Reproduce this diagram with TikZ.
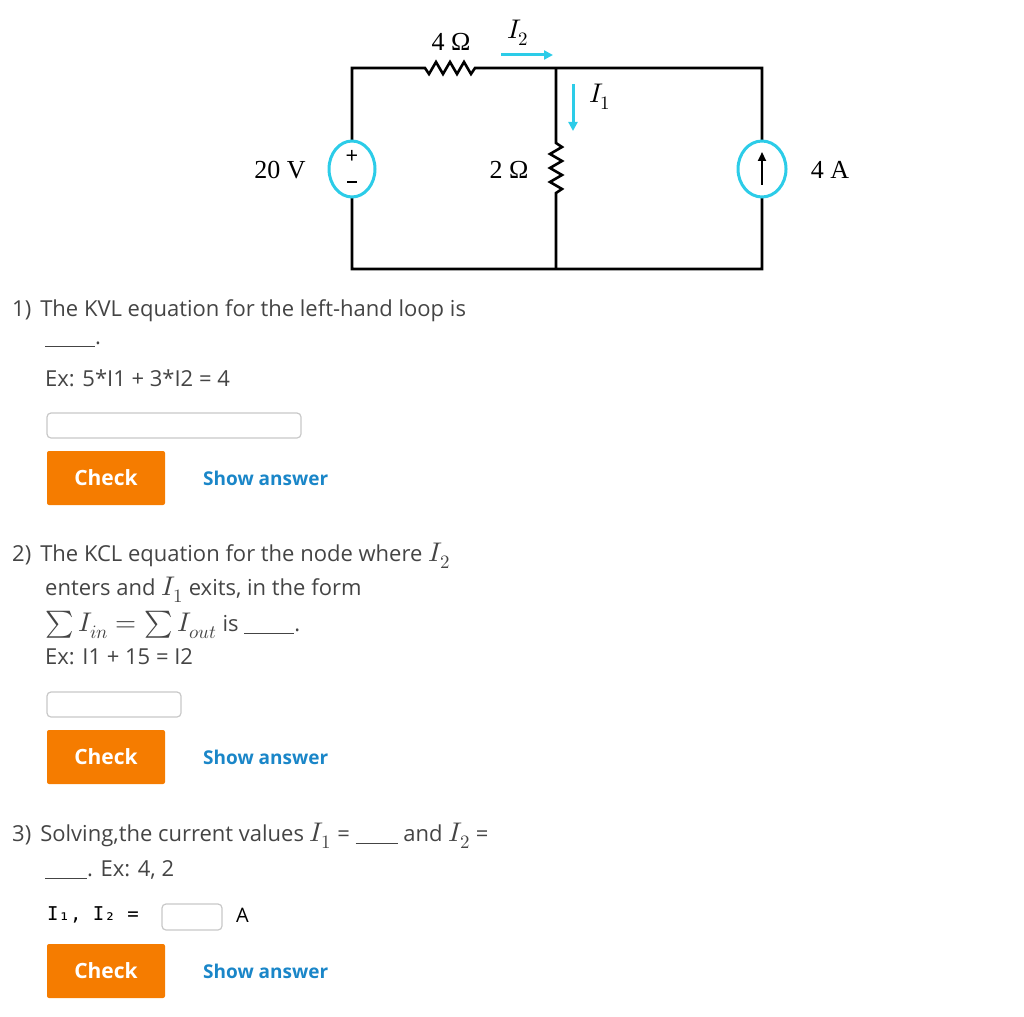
\documentclass[tikz,border=0pt]{standalone}
\usepackage{fontspec}
\usepackage{unicode-math}
\setmathfont{Latin Modern Math}
\setmainfont{Open Sans}
\newfontfamily\serifc{Liberation Serif}
\newfontfamily\monof{DejaVu Sans Mono}
\usetikzlibrary{arrows.meta,shapes.geometric}
\definecolor{txt}{HTML}{444444}
\definecolor{cy}{HTML}{2CCCE8}
\definecolor{org}{HTML}{F57C00}
\definecolor{lnk}{HTML}{1A86C8}
\definecolor{bx}{HTML}{C8C8C8}
\tikzset{
 wire/.style={line width=2.6pt},
 lab/.style={font=\serifc\fontsize{26}{28}\selectfont, text=black},
 q/.style={anchor=west, inner sep=0, font=\fontsize{22}{26}\selectfont, text=txt},
 inbox/.style={draw=bx, line width=1.2pt, rounded corners=4pt},
 btn/.style={fill=org, rounded corners=2pt, text=white, font=\bfseries\fontsize{21}{24}\selectfont, minimum width=118pt, minimum height=54pt, inner sep=0},
 show/.style={anchor=west, inner sep=0, text=lnk, font=\bfseries\fontsize{19}{24}\selectfont},
 car/.style={cy, line width=3pt, -{Triangle[length=9pt,width=9pt]}},
}
\newcommand{\blank}[1]{\rule[-2pt]{#1}{0.8pt}}
\newcommand{\mm}[1]{{\fontsize{27}{26}\selectfont$#1$}}
\begin{document}
\begin{tikzpicture}[x=1pt,y=-1pt]
\useasboundingbox (0,0) rectangle (1024,1016);
% circuit
\coordinate (tl) at (352,68); \coordinate (tr) at (762,68);
\coordinate (bl) at (352,269); \coordinate (br) at (762,269);
\coordinate (tm) at (556,68); \coordinate (bm) at (556,269);
\draw[wire] (tl) -- (425,68) -- ++(4,6) -- ++(7,-12) -- ++(7,12) -- ++(7,-12) -- ++(7,12) -- ++(7,-12) -- ++(7,12) -- ++(4,-6) -- (tr) -- (br) -- (bl) -- cycle;
\draw[wire] (tm) -- (556,143) -- ++(6,4) -- ++(-12,7) -- ++(12,7) -- ++(-12,7) -- ++(12,7) -- ++(-12,7) -- ++(12,7) -- ++(-6,4) -- (bm);
\node[draw=cy, line width=3pt, fill=white, ellipse, minimum width=46pt, minimum height=56pt, inner sep=0] (vs) at (352,169) {};
\node[inner sep=0, font=\fontsize{22}{22}\selectfont] at (352,157) {+};
\draw[line width=1.6pt] (347,182) -- (357,182);
\node[draw=cy, line width=3pt, fill=white, ellipse, minimum width=48pt, minimum height=56pt, inner sep=0] (cs) at (762,169) {};
\draw[line width=2pt, -{Triangle[length=9pt,width=8pt]}] (762,185) -- (762,152);
\node[lab] at (280,170) {20 V};
\node[lab] at (830,170) {4 A};
\node[lab] at (451,42) {4 Ω};
\node[lab] at (509,170) {2 Ω};
\node[lab] at (518,33) {\mm{I_2}};
\node[lab] at (600,97) {\mm{I_1}};
\draw[car] (501,55) -- (553,55);
\draw[car] (573,84) -- (573,131);
% question 1
\node[q] at (12,311) {1)\hspace{9pt}The KVL equation for the left-hand loop is};
\node[q] at (45,344) {\blank{50pt}.};
\node[q] at (45,378) {Ex: 5*I1 + 3*I2 = 4};
\draw[inbox] (47,413) rectangle (301,438);
\node[btn] (c1) at (106,478) {Check};
\node[show] at (203,478) {Show answer};
% question 2
\node[q] at (12,556) {2)\hspace{9pt}The KCL equation for the node where \mm{I_2}};
\node[q] at (45,590) {enters and \mm{I_1} exits, in the form};
\node[q] at (45,625) {\mm{\sum I_{in} = \sum I_{out}} is \blank{50pt}.};
\node[q] at (45,657) {Ex: I1 + 15 = I2};
\draw[inbox] (47,692) rectangle (181,717);
\node[btn] (c2) at (106,757) {Check};
\node[show] at (203,757) {Show answer};
% question 3
\node[q] at (12,836) {3)\hspace{9pt}Solving,the current values \mm{I_1} = \blank{42pt} and \mm{I_2} =};
\node[q] at (45,870) {\blank{42pt}. Ex: 4, 2};
\node[q, text=black, font=\monof\fontsize{19}{22}\selectfont] at (47,915) {I₁, I₂ =};
\draw[inbox] (162,904) rectangle (222,930);
\node[q, text=black, font=\fontsize{20}{24}\selectfont] at (236,915) {A};
\node[btn] (c3) at (106,971) {Check};
\node[show] at (203,971) {Show answer};
\end{tikzpicture}
\end{document}
